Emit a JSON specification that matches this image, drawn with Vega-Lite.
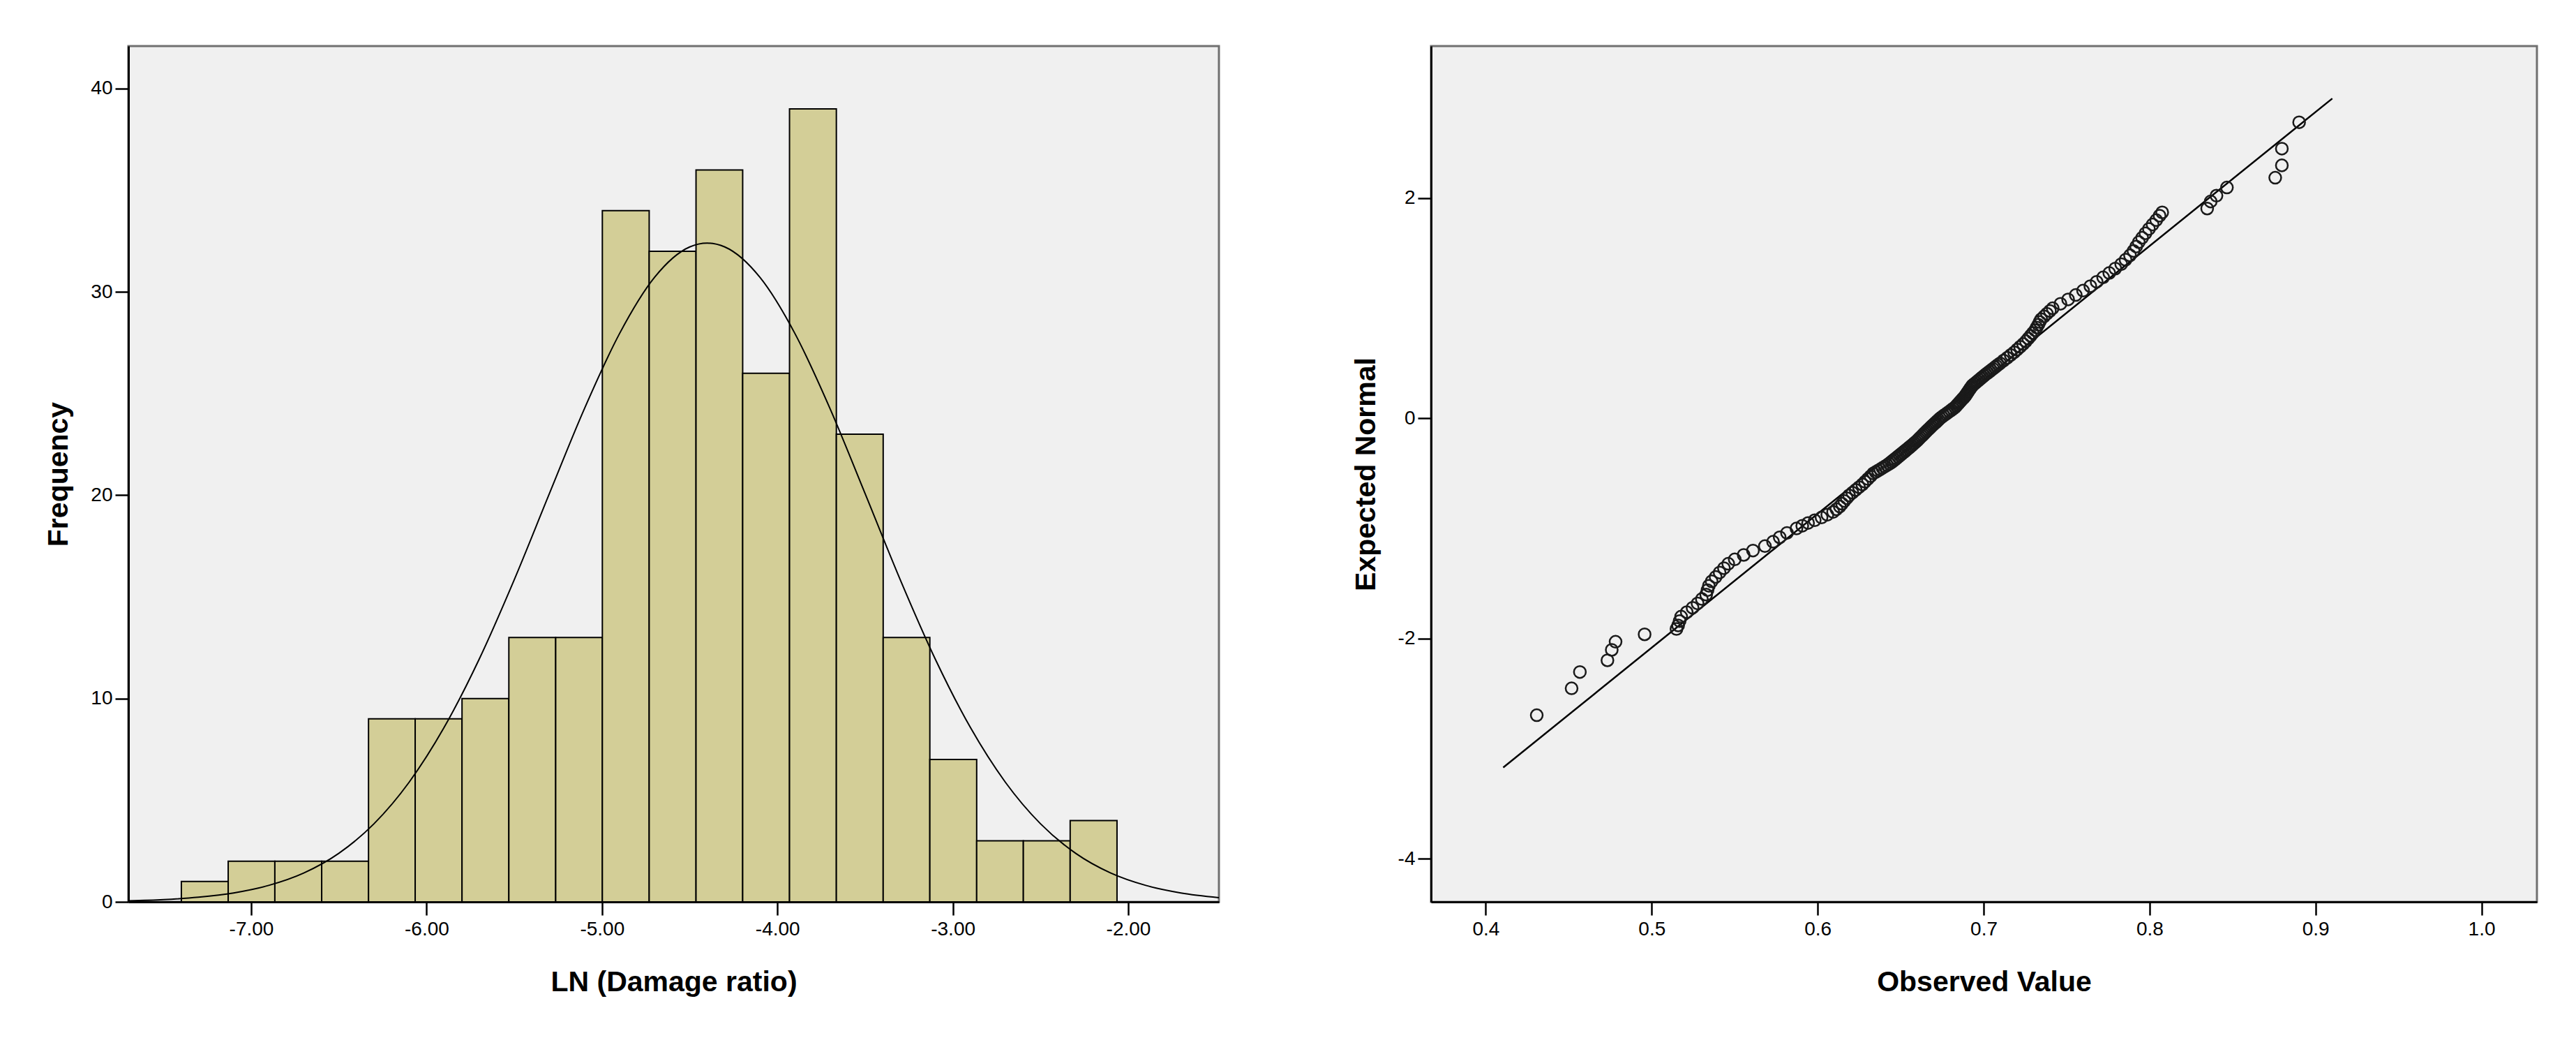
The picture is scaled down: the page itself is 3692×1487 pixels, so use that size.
{
  "$schema": "https://vega.github.io/schema/vega-lite/v6.json",
  "background": "white",
  "padding": {"left": 62, "top": 64, "right": 0, "bottom": 0},
  "spacing": 182,
  "config": {
    "view": {"fill": "#F0F0F0", "stroke": "#707070", "strokeWidth": 3},
    "axis": {
      "grid": false,
      "labelFont": "Liberation Sans",
      "labelFontSize": 28,
      "labelColor": "#000000",
      "titleFont": "Liberation Sans",
      "titleFontSize": 41,
      "titleFontWeight": "bold",
      "titleColor": "#000000",
      "tickColor": "#000000",
      "tickSize": 19,
      "tickWidth": 2.5,
      "domainColor": "#000000",
      "domainWidth": 3
    },
    "axisX": {"labelPadding": 6, "titlePadding": 42},
    "axisY": {"labelPadding": 4, "titlePadding": 24}
  },
  "hconcat": [
    {
      "width": 1563,
      "height": 1226,
      "layer": [
        {
          "data": {"values": [
            {"start": -7.398, "end": -7.131, "count": 1},
            {"start": -7.131, "end": -6.865, "count": 2},
            {"start": -6.865, "end": -6.598, "count": 2},
            {"start": -6.598, "end": -6.331, "count": 2},
            {"start": -6.331, "end": -6.065, "count": 9},
            {"start": -6.065, "end": -5.798, "count": 9},
            {"start": -5.798, "end": -5.531, "count": 10},
            {"start": -5.531, "end": -5.264, "count": 13},
            {"start": -5.264, "end": -4.998, "count": 13},
            {"start": -4.998, "end": -4.731, "count": 34},
            {"start": -4.731, "end": -4.464, "count": 32},
            {"start": -4.464, "end": -4.198, "count": 36},
            {"start": -4.198, "end": -3.931, "count": 26},
            {"start": -3.931, "end": -3.664, "count": 39},
            {"start": -3.664, "end": -3.397, "count": 23},
            {"start": -3.397, "end": -3.131, "count": 13},
            {"start": -3.131, "end": -2.864, "count": 7},
            {"start": -2.864, "end": -2.598, "count": 3},
            {"start": -2.598, "end": -2.331, "count": 3},
            {"start": -2.331, "end": -2.064, "count": 4}
          ]},
          "mark": {"type": "rect", "fill": "#D3CE97", "stroke": "#000000", "strokeWidth": 2},
          "encoding": {
            "x": {
              "field": "start", "type": "quantitative",
              "scale": {"domain": [-7.7, -1.483], "nice": false, "zero": false},
              "axis": {"title": "LN (Damage ratio)", "values": [-7, -6, -5, -4, -3, -2], "format": ".2f", "labelExpr": "replace(datum.label, '\u2212', '-')"}
            },
            "x2": {"field": "end"},
            "y": {
              "field": "count", "type": "quantitative",
              "scale": {"domain": [0, 42.09], "nice": false},
              "axis": {"title": "Frequency", "values": [0, 10, 20, 30, 40]}
            },
            "y2": {"datum": 0}
          }
        },
        {
          "data": {"values": [
            {"x": -7.7, "y": 0.05}, {"x": -7.5, "y": 0.11}, {"x": -7.3, "y": 0.23}, {"x": -7.1, "y": 0.44},
            {"x": -6.9, "y": 0.81}, {"x": -6.7, "y": 1.42}, {"x": -6.5, "y": 2.39}, {"x": -6.3, "y": 3.84},
            {"x": -6.1, "y": 5.88}, {"x": -5.9, "y": 8.58}, {"x": -5.7, "y": 11.94}, {"x": -5.5, "y": 15.85},
            {"x": -5.3, "y": 20.08}, {"x": -5.1, "y": 24.26}, {"x": -4.9, "y": 27.95}, {"x": -4.7, "y": 30.72},
            {"x": -4.5, "y": 32.21}, {"x": -4.4, "y": 32.4}, {"x": -4.3, "y": 32.21}, {"x": -4.1, "y": 30.72},
            {"x": -3.9, "y": 27.95}, {"x": -3.7, "y": 24.26}, {"x": -3.5, "y": 20.08}, {"x": -3.3, "y": 15.85},
            {"x": -3.1, "y": 11.94}, {"x": -2.9, "y": 8.58}, {"x": -2.7, "y": 5.88}, {"x": -2.5, "y": 3.84},
            {"x": -2.3, "y": 2.39}, {"x": -2.1, "y": 1.42}, {"x": -1.9, "y": 0.81}, {"x": -1.7, "y": 0.44},
            {"x": -1.483, "y": 0.21}
          ]},
          "mark": {"type": "line", "stroke": "#000000", "strokeWidth": 2, "interpolate": "monotone"},
          "encoding": {
            "x": {"field": "x", "type": "quantitative"},
            "y": {"field": "y", "type": "quantitative"}
          }
        }
      ]
    },
    {
      "width": 1585,
      "height": 1226,
      "layer": [
        {
          "data": {"values": [
            {"observed": 0.4105, "expected": -3.17},
            {"observed": 0.9101, "expected": 2.904}
          ]},
          "mark": {"type": "line", "stroke": "#000000", "strokeWidth": 2.5},
          "encoding": {
            "x": {
              "field": "observed", "type": "quantitative",
              "scale": {"domain": [0.367, 1.0334], "nice": false, "zero": false},
              "axis": {"title": "Observed Value", "values": [0.4, 0.5, 0.6, 0.7, 0.8, 0.9, 1.0], "format": ".1f"}
            },
            "y": {
              "field": "expected", "type": "quantitative",
              "scale": {"domain": [-4.39, 3.38], "nice": false, "zero": false},
              "axis": {"title": "Expected Normal", "values": [-4, -2, 0, 2], "format": "d", "labelExpr": "replace(datum.label, '\u2212', '-')"}
            }
          }
        },
        {
          "data": {"values": [
            {"observed": 0.4307, "expected": -2.695}, {"observed": 0.4517, "expected": -2.451}, {"observed": 0.4567, "expected": -2.303},
            {"observed": 0.4733, "expected": -2.197}, {"observed": 0.4759, "expected": -2.102}, {"observed": 0.4782, "expected": -2.028},
            {"observed": 0.4957, "expected": -1.961}, {"observed": 0.5149, "expected": -1.912},
            {"observed": 0.5159, "expected": -1.88}, {"observed": 0.5168, "expected": -1.84}, {"observed": 0.5177, "expected": -1.80},
            {"observed": 0.5211, "expected": -1.76}, {"observed": 0.5246, "expected": -1.72}, {"observed": 0.5276, "expected": -1.68},
            {"observed": 0.5302, "expected": -1.64}, {"observed": 0.5328, "expected": -1.60}, {"observed": 0.5336, "expected": -1.56},
            {"observed": 0.5344, "expected": -1.52}, {"observed": 0.5361, "expected": -1.48}, {"observed": 0.5385, "expected": -1.44},
            {"observed": 0.5409, "expected": -1.40}, {"observed": 0.5435, "expected": -1.36}, {"observed": 0.5461, "expected": -1.32},
            {"observed": 0.5500, "expected": -1.28}, {"observed": 0.5554, "expected": -1.24}, {"observed": 0.5610, "expected": -1.20},
            {"observed": 0.5682, "expected": -1.16}, {"observed": 0.5731, "expected": -1.12}, {"observed": 0.5771, "expected": -1.08},
            {"observed": 0.5815, "expected": -1.04},
            {"observed": 0.5872, "expected": -1.000}, {"observed": 0.5907, "expected": -0.975}, {"observed": 0.5942, "expected": -0.950},
            {"observed": 0.5982, "expected": -0.925}, {"observed": 0.6023, "expected": -0.900}, {"observed": 0.6058, "expected": -0.875},
            {"observed": 0.6093, "expected": -0.850}, {"observed": 0.6113, "expected": -0.825}, {"observed": 0.6133, "expected": -0.800},
            {"observed": 0.6147, "expected": -0.775}, {"observed": 0.6161, "expected": -0.750}, {"observed": 0.6175, "expected": -0.725},
            {"observed": 0.6189, "expected": -0.700}, {"observed": 0.6209, "expected": -0.675}, {"observed": 0.6229, "expected": -0.650},
            {"observed": 0.6249, "expected": -0.625}, {"observed": 0.6269, "expected": -0.600}, {"observed": 0.6285, "expected": -0.575},
            {"observed": 0.6302, "expected": -0.550}, {"observed": 0.6319, "expected": -0.525}, {"observed": 0.6335, "expected": -0.500},
            {"observed": 0.6349, "expected": -0.4875}, {"observed": 0.6363, "expected": -0.475}, {"observed": 0.6377, "expected": -0.4625},
            {"observed": 0.6390, "expected": -0.450}, {"observed": 0.6404, "expected": -0.4375}, {"observed": 0.6418, "expected": -0.425},
            {"observed": 0.6432, "expected": -0.4125}, {"observed": 0.6445, "expected": -0.400}, {"observed": 0.6455, "expected": -0.3875},
            {"observed": 0.6465, "expected": -0.375}, {"observed": 0.6475, "expected": -0.3625}, {"observed": 0.6485, "expected": -0.350},
            {"observed": 0.6495, "expected": -0.3375}, {"observed": 0.6505, "expected": -0.325}, {"observed": 0.6515, "expected": -0.3125},
            {"observed": 0.6526, "expected": -0.300}, {"observed": 0.6535, "expected": -0.2875}, {"observed": 0.6545, "expected": -0.275},
            {"observed": 0.6554, "expected": -0.2625}, {"observed": 0.6564, "expected": -0.250}, {"observed": 0.6573, "expected": -0.2375},
            {"observed": 0.6582, "expected": -0.225}, {"observed": 0.6592, "expected": -0.2125}, {"observed": 0.6601, "expected": -0.200},
            {"observed": 0.6609, "expected": -0.1875}, {"observed": 0.6617, "expected": -0.175}, {"observed": 0.6626, "expected": -0.1625},
            {"observed": 0.6634, "expected": -0.150}, {"observed": 0.6642, "expected": -0.1375}, {"observed": 0.6650, "expected": -0.125},
            {"observed": 0.6658, "expected": -0.1125}, {"observed": 0.6667, "expected": -0.100}, {"observed": 0.6676, "expected": -0.0875},
            {"observed": 0.6684, "expected": -0.075}, {"observed": 0.6693, "expected": -0.0625}, {"observed": 0.6702, "expected": -0.050},
            {"observed": 0.6711, "expected": -0.0375}, {"observed": 0.6720, "expected": -0.025}, {"observed": 0.6728, "expected": -0.0125},
            {"observed": 0.6737, "expected": 0.000}, {"observed": 0.6748, "expected": 0.0125}, {"observed": 0.6759, "expected": 0.025},
            {"observed": 0.6771, "expected": 0.0375}, {"observed": 0.6782, "expected": 0.050}, {"observed": 0.6794, "expected": 0.0625},
            {"observed": 0.6805, "expected": 0.075}, {"observed": 0.6816, "expected": 0.0875}, {"observed": 0.6827, "expected": 0.100},
            {"observed": 0.6835, "expected": 0.1125}, {"observed": 0.6842, "expected": 0.125}, {"observed": 0.6850, "expected": 0.1375},
            {"observed": 0.6857, "expected": 0.150}, {"observed": 0.6865, "expected": 0.1625}, {"observed": 0.6872, "expected": 0.175},
            {"observed": 0.6880, "expected": 0.1875}, {"observed": 0.6887, "expected": 0.200}, {"observed": 0.6893, "expected": 0.2125},
            {"observed": 0.6898, "expected": 0.225}, {"observed": 0.6904, "expected": 0.2375}, {"observed": 0.6910, "expected": 0.250},
            {"observed": 0.6915, "expected": 0.2625}, {"observed": 0.6921, "expected": 0.275}, {"observed": 0.6927, "expected": 0.2875},
            {"observed": 0.6933, "expected": 0.300}, {"observed": 0.6943, "expected": 0.3125}, {"observed": 0.6953, "expected": 0.325},
            {"observed": 0.6963, "expected": 0.3375}, {"observed": 0.6973, "expected": 0.350}, {"observed": 0.6983, "expected": 0.3625},
            {"observed": 0.6993, "expected": 0.375}, {"observed": 0.7003, "expected": 0.3875}, {"observed": 0.7013, "expected": 0.400},
            {"observed": 0.7024, "expected": 0.4125}, {"observed": 0.7035, "expected": 0.425}, {"observed": 0.7045, "expected": 0.4375},
            {"observed": 0.7056, "expected": 0.450}, {"observed": 0.7067, "expected": 0.4625}, {"observed": 0.7077, "expected": 0.475},
            {"observed": 0.7088, "expected": 0.4875}, {"observed": 0.7099, "expected": 0.500},
            {"observed": 0.7120, "expected": 0.525}, {"observed": 0.7142, "expected": 0.550},
            {"observed": 0.7163, "expected": 0.575}, {"observed": 0.7184, "expected": 0.600}, {"observed": 0.7202, "expected": 0.625},
            {"observed": 0.7220, "expected": 0.650}, {"observed": 0.7238, "expected": 0.675}, {"observed": 0.7255, "expected": 0.700},
            {"observed": 0.7269, "expected": 0.725}, {"observed": 0.7283, "expected": 0.750}, {"observed": 0.7296, "expected": 0.775},
            {"observed": 0.7310, "expected": 0.800}, {"observed": 0.7319, "expected": 0.825}, {"observed": 0.7329, "expected": 0.850},
            {"observed": 0.7337, "expected": 0.875}, {"observed": 0.7346, "expected": 0.900}, {"observed": 0.7364, "expected": 0.925},
            {"observed": 0.7381, "expected": 0.950}, {"observed": 0.7399, "expected": 0.975}, {"observed": 0.7416, "expected": 1.000},
            {"observed": 0.7463, "expected": 1.04}, {"observed": 0.7509, "expected": 1.08}, {"observed": 0.7555, "expected": 1.12},
            {"observed": 0.7599, "expected": 1.16}, {"observed": 0.7643, "expected": 1.20}, {"observed": 0.7681, "expected": 1.24},
            {"observed": 0.7720, "expected": 1.28}, {"observed": 0.7757, "expected": 1.32}, {"observed": 0.7793, "expected": 1.36},
            {"observed": 0.7829, "expected": 1.40}, {"observed": 0.7855, "expected": 1.44}, {"observed": 0.7882, "expected": 1.48},
            {"observed": 0.7903, "expected": 1.52}, {"observed": 0.7919, "expected": 1.56}, {"observed": 0.7935, "expected": 1.60},
            {"observed": 0.7955, "expected": 1.64}, {"observed": 0.7975, "expected": 1.68}, {"observed": 0.7996, "expected": 1.72},
            {"observed": 0.8018, "expected": 1.76}, {"observed": 0.8040, "expected": 1.80}, {"observed": 0.8060, "expected": 1.84},
            {"observed": 0.8076, "expected": 1.87},
            {"observed": 0.8347, "expected": 1.905}, {"observed": 0.8368, "expected": 1.969}, {"observed": 0.8403, "expected": 2.022},
            {"observed": 0.8466, "expected": 2.096}, {"observed": 0.8757, "expected": 2.185}, {"observed": 0.8797, "expected": 2.297},
            {"observed": 0.8797, "expected": 2.449}, {"observed": 0.8901, "expected": 2.688}
          ]},
          "mark": {"type": "point", "shape": "circle", "filled": false, "stroke": "#1a1a1a", "strokeWidth": 2.5, "size": 290, "opacity": 1},
          "encoding": {
            "x": {"field": "observed", "type": "quantitative"},
            "y": {"field": "expected", "type": "quantitative"}
          }
        }
      ]
    }
  ]
}
